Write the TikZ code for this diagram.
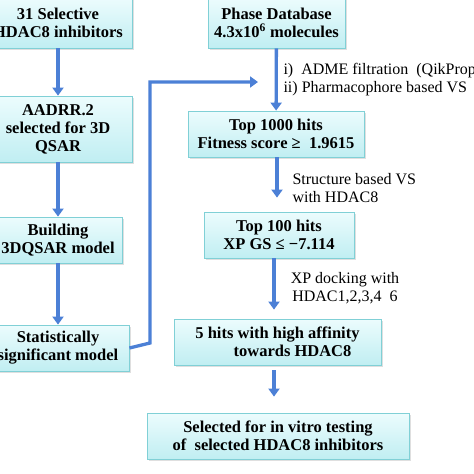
\documentclass[tikz,border=0pt]{standalone}
\usepackage{fontspec}
\setmainfont{Liberation Serif}
\usetikzlibrary{arrows.meta, shadows}

\definecolor{flowblue}{RGB}{76,128,214}
\definecolor{boxedge}{RGB}{128,208,214}
\definecolor{boxtop}{RGB}{236,252,253}
\definecolor{boxbottom}{RGB}{192,238,242}

\begin{document}
\begin{tikzpicture}[x=1pt, y=-1pt,
  box/.style={draw=boxedge, line width=0.8pt, top color=boxtop, bottom color=boxbottom,
    drop shadow={opacity=0.25, shadow xshift=1.5pt, shadow yshift=-1.5pt},
    align=center, minimum height=46pt, inner sep=2pt, font=\bfseries\fontsize{16.5}{18}\selectfont},
  note/.style={align=left, font=\fontsize{16}{18}\selectfont},
  arr/.style={-{Triangle[width=11pt,length=8pt]}, line width=3.3pt, flowblue}
]
  \clip (0,0) rectangle (474,474);

  \node[box, minimum width=148pt, minimum height=50pt] (sel31) at (58,23) {31 Selective\\HDAC8 inhibitors};
  \node[box, minimum width=148pt, minimum height=66pt] (aadrr) at (58,129) {AADRR.2\\selected for 3D\\QSAR};
  \node[box, minimum width=128pt] (build) at (58,240) {Building\\3DQSAR model};
  \node[box, minimum width=142pt] (stat) at (58,348) {Statistically\\significant model};

  \node[box, minimum width=137pt, minimum height=50pt] (phase) at (276.5,23) {Phase Database\\4.3x10\textsuperscript{6} molecules};
  \node[box, minimum width=176pt] (top1000) at (276,134) {Top 1000 hits\\Fitness score ≥\ \ 1.9615};
  \node[box, minimum width=150pt] (top100) at (279,235) {Top 100 hits\\XP GS ≤ −7.114};
  \node[box, minimum width=207pt] (hits5) at (277.5,342) {5 hits with high affinity\\\hspace*{30pt}towards HDAC8};
  \node[box, minimum width=262pt] (invitro) at (278,436) {Selected for in vitro testing\\of\ \ selected HDAC8 inhibitors};

  \node[note, anchor=west] (filt) at (280,80) {i)\ \ ADME\ filtration\ \ (QikProp)\\ii) Pharmacophore based VS};
  \node[note, anchor=west] (sbvs) at (289,188) {Structure based VS\\with HDAC8};
  \node[note, align=center] (dock) at (345,288) {XP docking with\\HDAC1,2,3,4\ \ 6};

  \coordinate (bend) at (150,343);
  \coordinate (dbjoin) at (258,82);

  \draw[arr] (sel31) -- (aadrr);
  \draw[arr] (aadrr) -- (build);
  \draw[arr] (build) -- (stat);
  \draw[arr] (stat.east) -- (bend) |- (dbjoin);
  \draw[arr] (phase) -- (top1000);
  \draw[arr, shorten >=14pt] (top1000.south -| 277,0) -- (top100.north -| 277,0);
  \draw[arr, shorten >=9pt] (top100.south -| 274,0) -- (hits5.north -| 274,0);
  \draw[arr, shorten <=5pt, shorten >=16pt] (hits5.south -| 274,0) -- (invitro.north -| 274,0);
\end{tikzpicture}
\end{document}
